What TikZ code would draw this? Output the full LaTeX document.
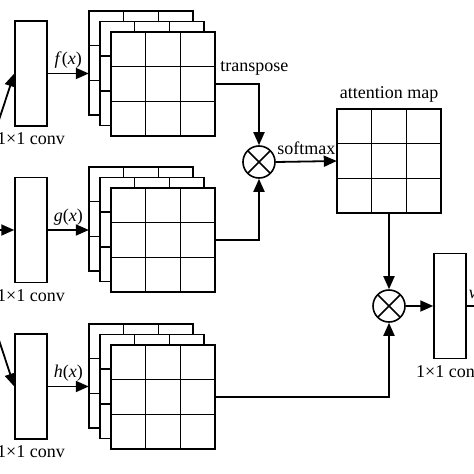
\documentclass[tikz,border=0pt]{standalone}
\usepackage{fontspec}
\setmainfont{Liberation Serif}
\usetikzlibrary{arrows.meta,positioning,calc}

\tikzset{
  convbox/.style={draw, line width=1.5pt, minimum width=32pt, minimum height=105pt, inner sep=0pt},
  mulop/.style={draw, circle, line width=1.6pt, minimum size=32pt, inner sep=0pt,
    path picture={\draw[line width=1.6pt] (path picture bounding box.north west) -- (path picture bounding box.south east)
      (path picture bounding box.north east) -- (path picture bounding box.south west);}},
  arr/.style={line width=1.8pt, -{Triangle[length=13pt,width=11pt]}},
  lbl/.style={font=\fontsize{18}{20}\selectfont, inner sep=1pt}
}

% one 3x3 layer, top left corner at (#1,#2)
\newcommand{\gridlayer}[2]{%
  \begin{scope}[shift={(#1,#2)}]
    \draw[line width=1.5pt, fill=white] (0,0) rectangle (104,104);
    \foreach \c in {34.67,69.33}{
      \draw[line width=1.5pt] (\c,0) -- (\c,104);
      \draw[line width=1.5pt] (0,\c) -- (104,\c);
    }
  \end{scope}}

% stack of three layers, back layer at (#2,#3)
\newcommand{\featstack}[3]{%
  \foreach \k in {0,1,2}{\gridlayer{#2+11*\k}{#3+10.5*\k}}
  \node[inner sep=0pt, minimum size=104pt] (#1b) at (#2+52,#3+52) {};
  \node[inner sep=0pt, minimum size=104pt] (#1) at (#2+74,#3+73) {};}

\begin{document}
\begin{tikzpicture}[x=1pt, y=-1pt]
  \useasboundingbox (0,0) rectangle (474,474);

  % 1x1 convs
  \node[convbox] (fconv) at (31,73.5) {};
  \node[convbox] (gconv) at (31,230) {};
  \node[convbox] (hconv) at (31,386.5) {};
  \node[lbl, below=5pt of fconv] {1×1 conv};
  \node[lbl, below=5pt of gconv] {1×1 conv};
  \node[lbl, below=5pt of hconv] {1×1 conv};

  % inputs
  \coordinate (in1) at (-3,126);
  \coordinate (in2) at (-3,230);
  \coordinate (in3) at (-3,334);
  \draw[arr] (in1) -- (fconv.west);
  \draw[arr] (in2) -- (gconv.west);
  \draw[arr] (in3) -- (hconv.west);

  % feature maps
  \featstack{fq}{89}{11}
  \featstack{gq}{89}{167}
  \featstack{hq}{89}{324}

  \draw[arr] (fconv.east) -- (fconv.east -| fqb.west) node[lbl, midway, above=3pt] {\textit{f}(\textit{x})};
  \draw[arr] (gconv.east) -- (gconv.east -| gqb.west) node[lbl, midway, above=3pt] {\textit{g}(\textit{x})};
  \draw[arr] (hconv.east) -- (hconv.east -| hqb.west) node[lbl, midway, above=3pt] {\textit{h}(\textit{x})};

  % attention branch
  \node[mulop] (mul1) at (259,162) {};
  \gridlayer{337}{109}
  \node[inner sep=0pt, minimum size=104pt] (att) at (389,161) {};
  \node[lbl, above=5pt of att] {attention map};

  \draw[arr] (fq.east) -| (mul1.north);
  \node[lbl, anchor=south west] at ($(fq.east)+(4,-7)$) {transpose};
  \draw[arr] (gq.east) -| (mul1.south);
  \draw[arr] (mul1.east) -- (att.west) node[lbl, midway, above=5pt] {softmax};

  % output branch
  \node[mulop] (mul2) at (389,306) {};
  \node[convbox] (oconv) at (450,306) {};
  \node[lbl, below=5pt of oconv] {1×1 conv};
  \coordinate (out) at (480,306);

  \draw[arr] (att.south) -- (mul2.north);
  \draw[arr] (hq.east) -| (mul2.south);
  \draw[arr] (mul2.east) -- (oconv.west);
  \draw[line width=1.6pt] (oconv.east) -- (out);
  \node[lbl, anchor=south west] at ($(oconv.east)+(1,-2)$) {\textit{v}(\textit{x})};
\end{tikzpicture}
\end{document}
